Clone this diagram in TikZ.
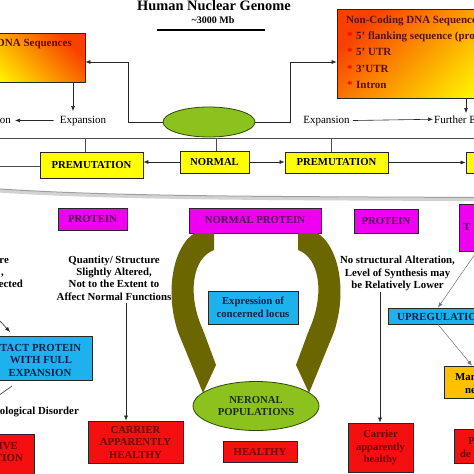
\documentclass[tikz,border=0pt]{standalone}
\usepackage{fontspec}
\setmainfont{Liberation Serif}
\usetikzlibrary{shapes.geometric,arrows.meta}
\definecolor{yfill}{HTML}{FFFF00}
\definecolor{mfill}{HTML}{F000F0}
\definecolor{mtext}{HTML}{4E0058}
\definecolor{cfill}{HTML}{1CB2EE}
\definecolor{ctext}{HTML}{0A1E46}
\definecolor{rfill}{HTML}{F41010}
\definecolor{rtext}{HTML}{6A0000}
\definecolor{gfill}{HTML}{8CC21E}
\definecolor{gline}{HTML}{2E4A00}
\definecolor{gtext}{HTML}{1E2D00}
\definecolor{oliv}{HTML}{6B6600}
\definecolor{gold}{HTML}{FFC000}
\definecolor{ored}{HTML}{F84000}
\definecolor{dtxt}{HTML}{5A1000}
\begin{document}
\begin{tikzpicture}[x=1pt,y=-1pt,
  box/.style={draw=black!85, line width=0.8pt, inner sep=0pt, align=center,
    font=\bfseries\fontsize{10.7}{12.5}\selectfont},
  yb/.style={box, fill=yfill},
  mb/.style={box, fill=mfill, text=mtext},
  cb/.style={box, fill=cfill, text=ctext},
  rb/.style={box, fill=rfill, text=rtext},
  gb/.style={box, fill=gold},
  gell/.style={ellipse, draw=gline, line width=0.8pt, fill=gfill, inner sep=0pt, align=center,
    text=gtext, font=\bfseries\fontsize{10.7}{12.5}\selectfont},
  arr/.style={draw=black!85, line width=0.6pt, -{Latex[length=5pt,width=4pt]}},
  garr/.style={draw=black!55, line width=0.5pt, -{Latex[length=5pt,width=4pt]}},
  ln/.style={draw=black!70, line width=0.7pt},
  lbl/.style={font=\bfseries\fontsize{10.8}{12.4}\selectfont, align=center, inner sep=0pt},
  reg/.style={font=\fontsize{11}{13}\selectfont, inner sep=0pt},
  btxt/.style={font=\bfseries\fontsize{11}{13}\selectfont, inner sep=0pt, text=dtxt}
]
\useasboundingbox (0,0) rectangle (474,474);
\clip (0,0) rectangle (474,474);
\fill[white] (0,0) rectangle (474,474);

% title
\node[anchor=base, inner sep=0pt, font=\bfseries\fontsize{14.4}{16}\selectfont] (title) at (214,10) {Human Nuclear Genome};
\node[anchor=base, inner sep=0pt, font=\bfseries\fontsize{10}{12}\selectfont] (mb) at (213,23.5) {\textasciitilde3000 Mb};
\coordinate (u1) at (157,30); \coordinate (u2) at (265,30);
\draw[line width=2.4pt] (u1) -- (u2);

% top boxes
\node[box, shading=axis, top color=ored, bottom color=yfill, shading angle=-45,
  minimum width=115, minimum height=49] (ldna) at (27.5,57.5) {};
\node[btxt, anchor=base east] (ldnat) at (72,46) {DNA Sequences};
\node[box, shading=axis, top color=ored, bottom color=yfill, shading angle=45,
  minimum width=183, minimum height=89] (rdna) at (428.5,53.5) {};
\node[btxt, anchor=base west] (nc) at (346,23) {Non-Coding DNA Sequences};
\node[btxt, anchor=base west] (i1) at (347,39) {{\color{red}*}\hspace{3.5pt}5’ flanking sequence (pro};
\node[btxt, anchor=base west] (i2) at (347,55.5) {{\color{red}*}\hspace{3.5pt}5’ UTR};
\node[btxt, anchor=base west] (i3) at (347,72) {{\color{red}*}\hspace{3.5pt}3’UTR};
\node[btxt, anchor=base west] (i4) at (347,88.5) {{\color{red}*}\hspace{3.5pt}Intron};

\node[ellipse, draw=gline, line width=0.8pt, fill=gfill, minimum width=92, minimum height=30, inner sep=0pt] (gen) at (209,122) {};
\draw[arr] (gen.west) -- ++(-34,0) |- ([yshift=-4.5pt]ldna.east);
\draw[arr] (gen.east) -- ++(35,0) |- ([yshift=-8.5pt]rdna.west);

\coordinate (c1) at (73,111);
\draw[arr] (c1 |- ldna.south) -- (c1);
\coordinate (c2) at (466,113);
\draw[arr] (c2 |- rdna.south) -- (c2);

\node[reg, anchor=base] (expL) at (83,123) {Expansion};
\node[reg, anchor=base east] (onL) at (11,123) {on};
\draw[arr] ([xshift=-6pt]expL.west) -- ([xshift=4pt]onL.east);
\node[reg, anchor=base] (expR) at (326.5,123) {Expansion};
\node[reg, anchor=base west] (fur) at (434,123) {Further E};
\draw[arr] ([xshift=3pt]expR.east) -- ([xshift=-1pt]fur.west);

% premutation row
\coordinate (hlL) at (0,138); \coordinate (hlR) at (474,138);
\draw[ln] (hlL) -- (hlR);
\node[yb, minimum width=103, minimum height=26] (pm1) at (91.5,165) {PREMUTATION};
\node[yb, minimum width=69, minimum height=22] (nrm) at (214.5,162) {NORMAL};
\node[yb, minimum width=103, minimum height=21] (pm2) at (336.5,162.5) {PREMUTATION};
\node[yb, minimum width=24, minimum height=21] (yb3) at (478,162.5) {};
\coordinate (t1) at ([xshift=-6.5pt]pm1.north);
\coordinate (t2) at ([xshift=1.5pt]nrm.north);
\coordinate (t3) at ([xshift=-5.5pt]pm2.north);
\draw[ln] (t1) -- (t1 |- hlL);
\draw[ln] (t2) -- (t2 |- hlL);
\draw[ln] (t3) -- (t3 |- hlL);
\draw[arr] (nrm.west) -- (nrm.west -| pm1.east);
\draw[arr] (nrm.east) -- (nrm.east -| pm2.west);
\draw[arr] (pm2.east) -- (pm2.east -| yb3.west);
\coordinate (l0) at (0,166);
\draw[ln] (l0) -- (l0 -| pm1.west);

% divider
\draw[gray!35, line width=3.2pt] (0,191) .. controls (120,199) and (300,198.5) .. (474,199.5);
\draw[gray!75, line width=1pt] (0,189) .. controls (120,197) and (300,196.5) .. (474,197.5);

% protein row
\node[mb, minimum width=69, minimum height=22] (prot1) at (92.5,219.5) {PROTEIN};
\node[mb, minimum width=132, minimum height=25] (nprot) at (255,220.5) {NORMAL PROTEIN};
\node[mb, minimum width=64, minimum height=24] (prot2) at (386,221) {PROTEIN};
\node[mb, minimum width=61, minimum height=47] (mag4) at (489.5,227.5) {};
\node[lbl, anchor=base west, text=mtext] (mag4t) at (463,230) {T};

% olive curved arrows
\fill[oliv] (298,233) -- (317,233) .. controls (338,245) and (348,290) .. (334,332)
  -- (309,393) -- (296,365) -- (309,330) .. controls (325,295) and (320,258) .. (298,250) -- cycle;
\fill[oliv] (214,233) -- (195,233) .. controls (174,245) and (164,290) .. (178,332)
  -- (203,393) -- (216,365) -- (203,330) .. controls (187,295) and (192,258) .. (214,250) -- cycle;

\node[cb, minimum width=90, minimum height=33] (expr) at (253,307.5) {Expression of\\concerned locus};
\node[gell, minimum width=126, minimum height=49] (neron) at (256,406) {NERONAL\\POPULATIONS};
\node[rb, minimum width=74, minimum height=21] (healthy) at (260,451.5) {HEALTHY};

% left column
\node[lbl, anchor=base east] (lt1) at (9,263) {re};
\node[lbl, anchor=base east] (lt2) at (4,275) {,};
\node[lbl, anchor=base east] (lt3) at (23,287.5) {ected};
\node[lbl] (qtext) at (114,278) {Quantity/ Structure\\Slightly Altered,\\Not to the Extent to\\Affect Normal Functions};
\coordinate (qa) at (126,303);
\node[rb, minimum width=95, minimum height=42] (carrier) at (135.5,442) {CARRIER\\APPARENTLY\\HEALTHY};
\draw[arr] (qa) -- (qa |- carrier.north);

\coordinate (a0) at (0,321); \coordinate (a1) at (10,332);
\draw[arr] (a0) -- (a1);
\node[cb, minimum width=112, minimum height=44] (intact) at (36,358) {};
\node[lbl, anchor=base west, text=ctext] (it1) at (0,351) {TACT PROTEIN};
\node[lbl, anchor=base, text=ctext] (it2) at (41,363.5) {WITH FULL};
\node[lbl, anchor=base, text=ctext] (it3) at (40,376) {EXPANSION};
\coordinate (b0) at (0,394.5); \coordinate (b1) at (12,386);
\draw[ln] (b0) -- (b1);
\node[lbl, anchor=base east] (neuro) at (79,414) {ological Disorder};
\node[rb, minimum width=64, minimum height=56] (red0) at (2,462) {};
\node[lbl, anchor=base east, text=rtext] (r0a) at (18,449) {IVE};
\node[lbl, anchor=base east, text=rtext] (r0b) at (23,461.5) {TION};

% right column
\node[lbl] (ntext) at (397.5,273.5) {No structural Alteration,\\Level of Synthesis may\\be Relatively Lower};
\node[rb, minimum width=65, minimum height=49, font=\bfseries\fontsize{10.5}{12.5}\selectfont] (carrier2) at (380.5,447.5) {Carrier\\apparently\\healthy};
\coordinate (na) at (380,292);
\draw[arr] (na) -- (na |- carrier2.north);

\node[cb, minimum width=112, minimum height=16] (upreg) at (444,316) {};
\node[lbl, anchor=base west, text=ctext] (upt) at (397,320) {UPREGULATIO};
\coordinate (d1) at (475,254);
\draw[garr] (d1) -- ([xshift=-6pt]upreg.north);
\node[gb, minimum width=76, minimum height=32] (gold) at (482,382) {};
\node[lbl, anchor=base west] (g1) at (455,380) {Man};
\node[lbl, anchor=base west] (g2) at (465,393) {ne};
\draw[garr] ([xshift=-6pt]upreg.south) -- ([xshift=-10pt]gold.north);
\node[rb, minimum width=66, minimum height=34] (red5) at (487,446) {};
\node[lbl, anchor=base west, text=rtext] (r5a) at (468,444) {P};
\node[lbl, anchor=base west, text=rtext] (r5b) at (460,457) {de};
\end{tikzpicture}
\end{document}
